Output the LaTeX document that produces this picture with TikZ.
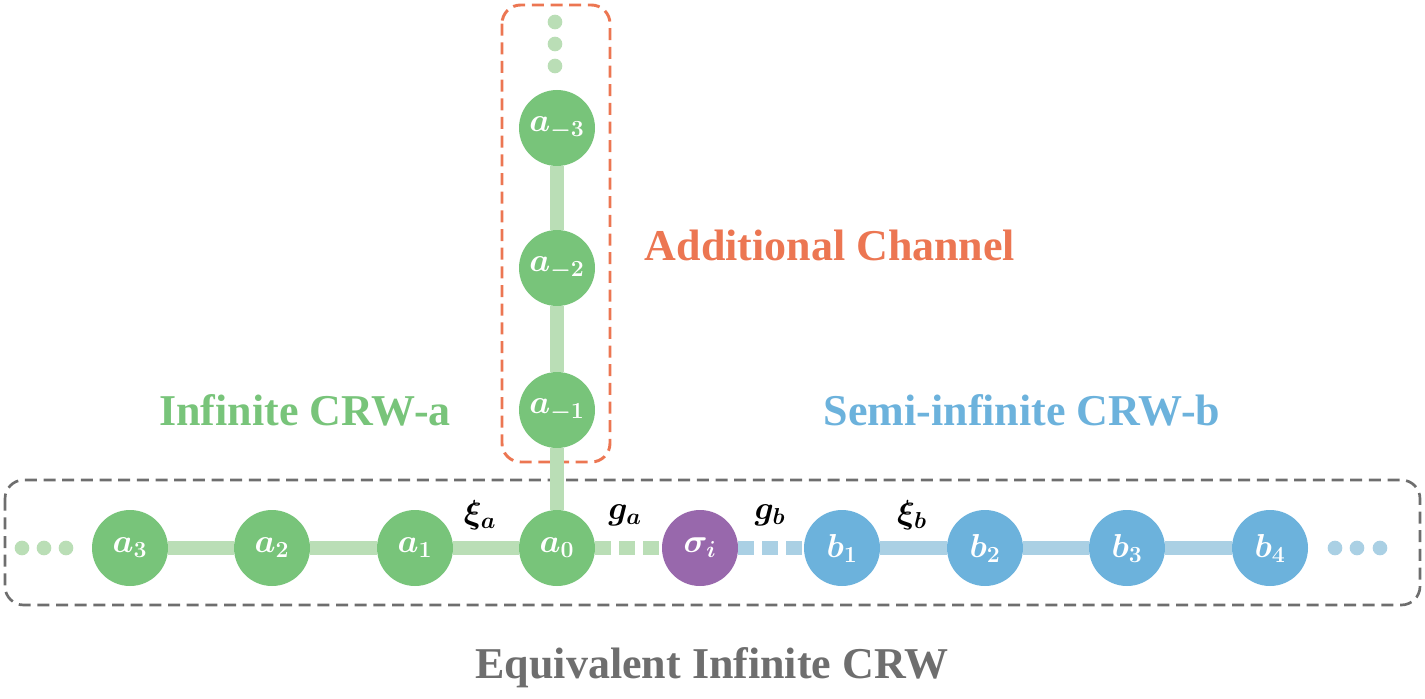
\documentclass[tikz,border=0pt]{standalone}
\usepackage{fontspec}
\setmainfont{Liberation Serif}
\usepackage{amsmath,bm}
\definecolor{gn}{RGB}{120,196,122}
\definecolor{lgn}{RGB}{186,222,182}
\definecolor{bl}{RGB}{108,178,220}
\definecolor{lbl}{RGB}{170,208,228}
\definecolor{pu}{RGB}{152,104,172}
\definecolor{org}{RGB}{236,118,82}
\definecolor{gy}{RGB}{110,110,110}
\begin{document}
\begin{tikzpicture}[x=0.75pt,y=-0.75pt,
  nd/.style={circle,minimum size=57pt,inner sep=0pt,text=white,font=\fontsize{24}{26}\selectfont},
  gnode/.style={nd,fill=gn},bnode/.style={nd,fill=bl},
  gl/.style={lgn,line width=10.5pt},bline/.style={lbl,line width=10.5pt},
  dot/.style={circle,inner sep=0pt,minimum size=11pt},
  lab/.style={font=\fontsize{24}{26}\selectfont},
  ttl/.style={font=\bfseries\fontsize{33}{36}\selectfont}]
\useasboundingbox (0,0) rectangle (1425,699);
\draw[gy,line width=2pt,dash pattern=on 9pt off 5pt,rounded corners=14pt] (5,480) rectangle (1420,605);
\draw[org,line width=2.2pt,dash pattern=on 9pt off 5pt,rounded corners=14pt] (502,5) rectangle (610,462);
\node[gnode] (a3) at (130,548) {$\bm{a_3}$};
\node[gnode] (a2) at (272,548) {$\bm{a_2}$};
\node[gnode] (a1) at (415,548) {$\bm{a_1}$};
\node[gnode] (a0) at (557,548) {$\bm{a_0}$};
\node[nd,fill=pu] (s) at (700,548) {$\bm{\sigma_i}$};
\node[bnode] (b1) at (842,548) {$\bm{b_1}$};
\node[bnode] (b2) at (985,548) {$\bm{b_2}$};
\node[bnode] (b3) at (1127,548) {$\bm{b_3}$};
\node[bnode] (b4) at (1270,548) {$\bm{b_4}$};
\node[gnode] (m1) at (557,410) {$\bm{a_{-1}}$};
\node[gnode] (m2) at (557,268) {$\bm{a_{-2}}$};
\node[gnode] (m3) at (557,128) {$\bm{a_{-3}}$};
\draw[gl] (a3)--(a2) (a2)--(a1) (a1)--(a0) (a0)--(m1) (m1)--(m2) (m2)--(m3);
\draw[gl,dash pattern=on 12pt off 6pt] (a0)--(s);
\draw[bline,dash pattern=on 12pt off 6pt] (s)--(b1);
\draw[bline] (b1)--(b2) (b2)--(b3) (b3)--(b4);
\foreach \n/\x/\y/\c in {l1/22/548/lgn,l2/44/548/lgn,l3/66/548/lgn,r1/1335/548/lbl,r2/1357/548/lbl,r3/1380/548/lbl,t1/555/22/lgn,t2/555/44/lgn,t3/555/66/lgn}
  \node[dot,fill=\c] (\n) at (\x,\y) {};
\node[lab] (xa) at (480,515) {$\bm{\xi_a}$};
\node[lab] (ga) at (625,515) {$\bm{g_a}$};
\node[lab] (gb) at (770,515) {$\bm{g_b}$};
\node[lab] (xb) at (912,515) {$\bm{\xi_b}$};
\node[ttl,text=org] (ac) at (830,245) {Additional Channel};
\node[ttl,text=gn] (ia) at (305,410) {Infinite CRW-a};
\node[ttl,text=bl] (sb) at (1022,410) {Semi-infinite CRW-b};
\node[ttl,text=gy] (eq) at (712,668) {Equivalent Infinite CRW};
\end{tikzpicture}
\end{document}
